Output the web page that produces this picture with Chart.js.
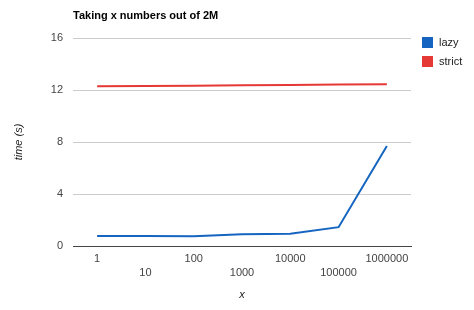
<!DOCTYPE html>
<html>
<head>
<meta charset="utf-8">
<script src="https://cdn.jsdelivr.net/npm/chart.js@4/dist/chart.umd.min.js"></script>
<style>
  html, body { margin: 0; padding: 0; background: #fff; }
  #wrap { width: 474px; height: 310px; }
</style>
</head>
<body>
<div id="wrap"><canvas id="chart" width="474" height="310"></canvas></div>
<script>
const categories = ["1", "10", "100", "1000", "10000", "100000", "1000000"];
const lazyTimes = [0.77, 0.77, 0.75, 0.9, 0.95, 1.45, 7.7];
const strictTimes = [12.28, 12.3, 12.33, 12.36, 12.39, 12.42, 12.45];
const yTicks = [0, 4, 8, 12, 16];

const FONT = "Arial, 'Liberation Sans', sans-serif";

// title + legend drawn by hand so they sit where the original put them
const decorPlugin = {
  id: "decor",
  afterDraw(chart) {
    const ctx = chart.ctx;
    const area = chart.chartArea;
    ctx.save();
    ctx.fillStyle = "#000";
    ctx.font = `bold 11px ${FONT}`;
    ctx.textBaseline = "middle";
    ctx.textAlign = "left";
    ctx.fillText("Taking x numbers out of 2M", area.left, 16);

    ctx.font = `11px ${FONT}`;
    chart.data.datasets.forEach((ds, i) => {
      const y = 43 + i * 19;
      ctx.fillStyle = ds.borderColor;
      ctx.fillRect(422, y - 6, 11, 11);
      ctx.fillStyle = "#222";
      ctx.fillText(ds.label, 439, y);
    });
    ctx.restore();
  },
};

new Chart(document.getElementById("chart").getContext("2d"), {
  type: "line",
  data: {
    labels: categories,
    datasets: [
      {
        label: "lazy",
        data: lazyTimes,
        borderColor: "#1565c0",
        backgroundColor: "#1565c0",
        borderWidth: 2,
        pointRadius: 0,
        tension: 0,
      },
      {
        label: "strict",
        data: strictTimes,
        borderColor: "#e53935",
        backgroundColor: "#e53935",
        borderWidth: 2,
        pointRadius: 0,
        tension: 0,
      },
    ],
  },
  options: {
    responsive: false,
    animation: false,
    layout: { padding: { top: 38, right: 63, left: 0, bottom: 0 } },
    plugins: {
      legend: { display: false },
      title: { display: false },
      tooltip: { enabled: false },
    },
    scales: {
      x: {
        offset: true,
        grid: { display: false, drawTicks: false },
        border: { display: true, color: "#444", width: 1 },
        ticks: {
          color: "#444",
          padding: 6,
          maxRotation: 0,
          autoSkip: false,
          font: { family: FONT, size: 11, lineHeight: 1.3 },
          callback: (value, index) => (index % 2 ? ["", categories[index]] : [categories[index]]),
        },
        title: {
          display: true,
          text: "x",
          color: "#222",
          font: { family: FONT, size: 11, style: "italic" },
          padding: { top: 4, bottom: 8 },
        },
        afterFit(scale) { scale.height = 64; },
      },
      y: {
        min: 0,
        max: 16,
        afterBuildTicks(scale) { scale.ticks = yTicks.map((v) => ({ value: v })); },
        grid: {
          drawTicks: false,
          color: (c) => (c.tick && c.tick.value === 0 ? "rgba(0,0,0,0)" : "#cccccc"),
        },
        border: { display: false },
        ticks: {
          color: "#444",
          padding: 10,
          font: { family: FONT, size: 11 },
        },
        title: {
          display: true,
          text: "time (s)",
          color: "#222",
          font: { family: FONT, size: 11, style: "italic" },
          padding: { top: 12, bottom: 0 },
        },
        afterFit(scale) { scale.width = 73; },
      },
    },
  },
  plugins: [decorPlugin],
});
</script>
</body>
</html>
